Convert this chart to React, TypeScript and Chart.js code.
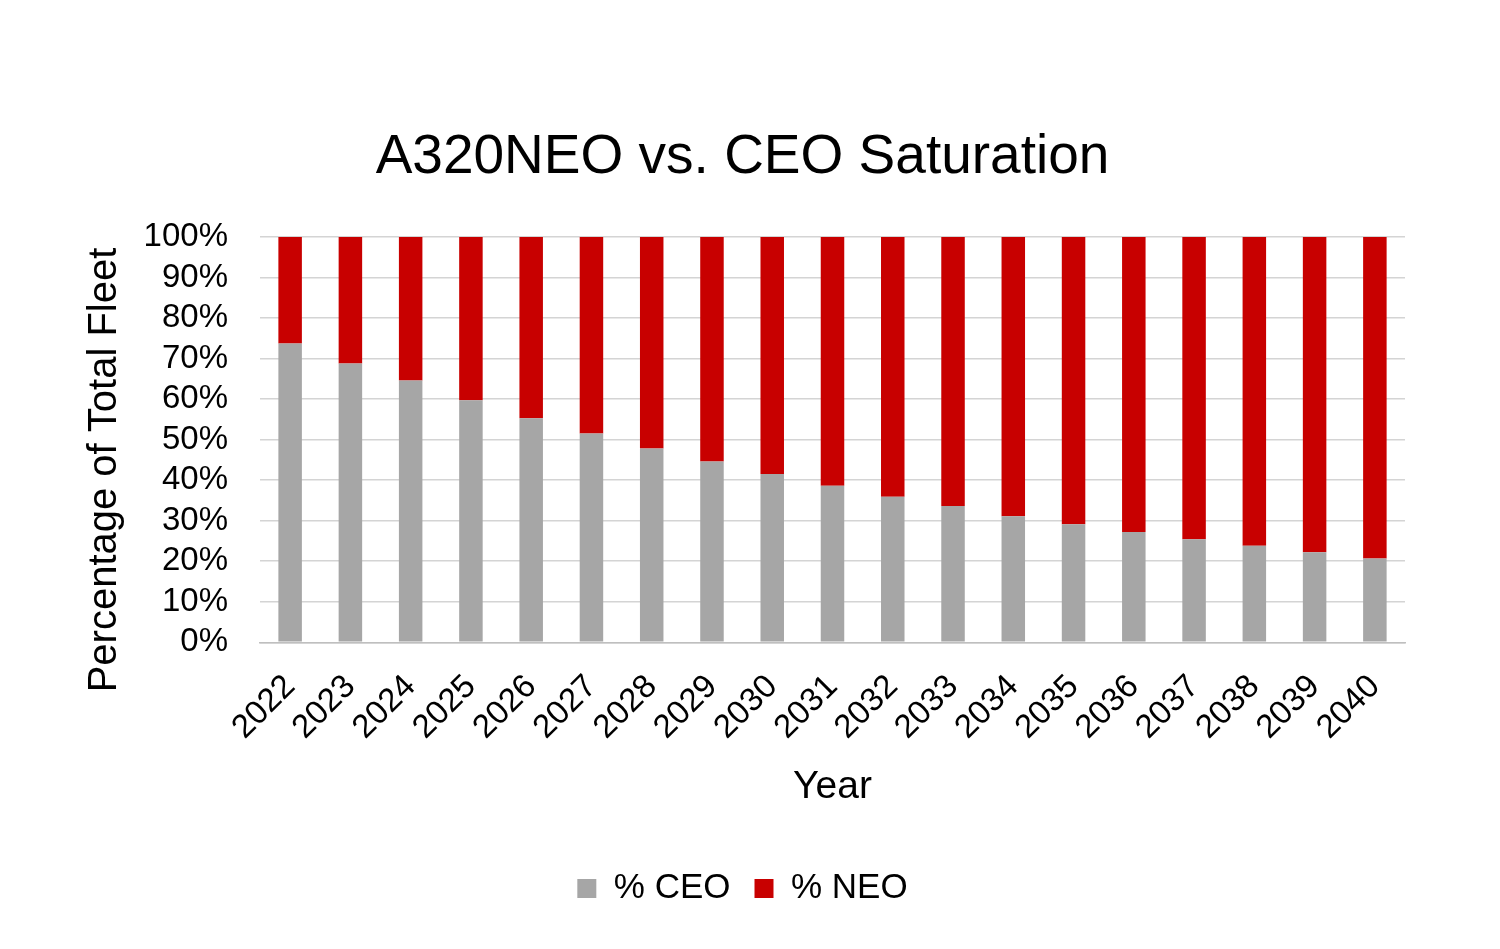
import React, { useEffect, useRef } from "react";
import { Chart, registerables } from "chart.js";

Chart.register(...registerables);

const chartTitle = "A320NEO vs. CEO Saturation";
const yAxisTitle = "Percentage of Total Fleet";
const xAxisTitle = "Year";

const years = [
  "2022", "2023", "2024", "2025", "2026", "2027", "2028", "2029", "2030", "2031",
  "2032", "2033", "2034", "2035", "2036", "2037", "2038", "2039", "2040",
];

const ceoPct = [
  73.7, 68.8, 64.6, 59.7, 55.3, 51.5, 47.8, 44.6, 41.5, 38.6,
  35.9, 33.6, 31.1, 29.1, 27.2, 25.4, 23.8, 22.2, 20.7,
];

const neoPct = [
  26.3, 31.2, 35.4, 40.3, 44.7, 48.5, 52.2, 55.4, 58.5, 61.4,
  64.1, 66.4, 68.9, 70.9, 72.8, 74.6, 76.2, 77.8, 79.3,
];

const yTickValues = [0, 10, 20, 30, 40, 50, 60, 70, 80, 90, 100];

const FONT = "'Liberation Sans', Arial, sans-serif";

const yTitlePlugin = {
  id: "yTitlePlugin",
  afterDraw(chart: any) {
    const { ctx } = chart;
    ctx.save();
    ctx.translate(105, 470);
    ctx.rotate(-Math.PI / 2);
    ctx.font = `40px ${FONT}`;
    ctx.fillStyle = "#000000";
    ctx.textAlign = "center";
    ctx.textBaseline = "middle";
    ctx.fillText(yAxisTitle, 0, 0);
    ctx.restore();
  },
};

export default function App() {
  const canvasRef = useRef<HTMLCanvasElement | null>(null);

  useEffect(() => {
    if (!canvasRef.current) return;
    const chart = new Chart(canvasRef.current, {
      type: "bar",
      data: {
        labels: years,
        datasets: [
          {
            label: "% CEO",
            data: ceoPct,
            backgroundColor: "#a6a6a6",
            borderWidth: 0,
            categoryPercentage: 0.39,
            barPercentage: 1,
          },
          {
            label: "% NEO",
            data: neoPct,
            backgroundColor: "#c80000",
            borderWidth: 0,
            categoryPercentage: 0.39,
            barPercentage: 1,
          },
        ],
      },
      options: {
        responsive: false,
        animation: false,
        layout: { padding: { left: 80, right: 95, top: 95, bottom: 33 } },
        plugins: {
          title: {
            display: true,
            text: chartTitle,
            color: "#000000",
            font: { family: FONT, size: 55, weight: "normal" },
            padding: { top: 30, bottom: 46 },
          },
          legend: {
            position: "bottom",
            labels: {
              color: "#000000",
              font: { family: FONT, size: 35 },
              boxWidth: 19,
              boxHeight: 19,
              padding: 24,
            },
          },
          tooltip: { enabled: false },
        },
        scales: {
          x: {
            stacked: true,
            grid: { display: false },
            border: { display: true, color: "#bfbfbf", width: 1.5 },
            ticks: {
              color: "#000000",
              font: { family: FONT, size: 33 },
              minRotation: 45,
              maxRotation: 45,
              autoSkip: false,
              padding: 17,
            },
            title: {
              display: true,
              text: xAxisTitle,
              color: "#000000",
              font: { family: FONT, size: 39 },
              padding: { top: 0, bottom: 36 },
            },
          },
          y: {
            stacked: true,
            min: 0,
            max: 100,
            afterFit: (scale: any) => {
              scale.width = 180;
            },
            afterBuildTicks: (scale: any) => {
              scale.ticks = yTickValues.map((v) => ({ value: v }));
            },
            grid: { color: "#d4d4d4", lineWidth: 1.5, drawTicks: false },
            border: { display: false },
            ticks: {
              color: "#000000",
              font: { family: FONT, size: 33 },
              padding: 32,
              autoSkip: false,
              callback: (v: any) => `${v}%`,
            },
          },
        },
      },
      plugins: [yTitlePlugin],
    });
    return () => chart.destroy();
  }, []);

  return (
    <div style={{ position: "absolute", left: 0, top: 0, width: 1500, height: 949, background: "#ffffff" }}>
      <canvas ref={canvasRef} width={1500} height={949} style={{ display: "block" }} />
    </div>
  );
}
